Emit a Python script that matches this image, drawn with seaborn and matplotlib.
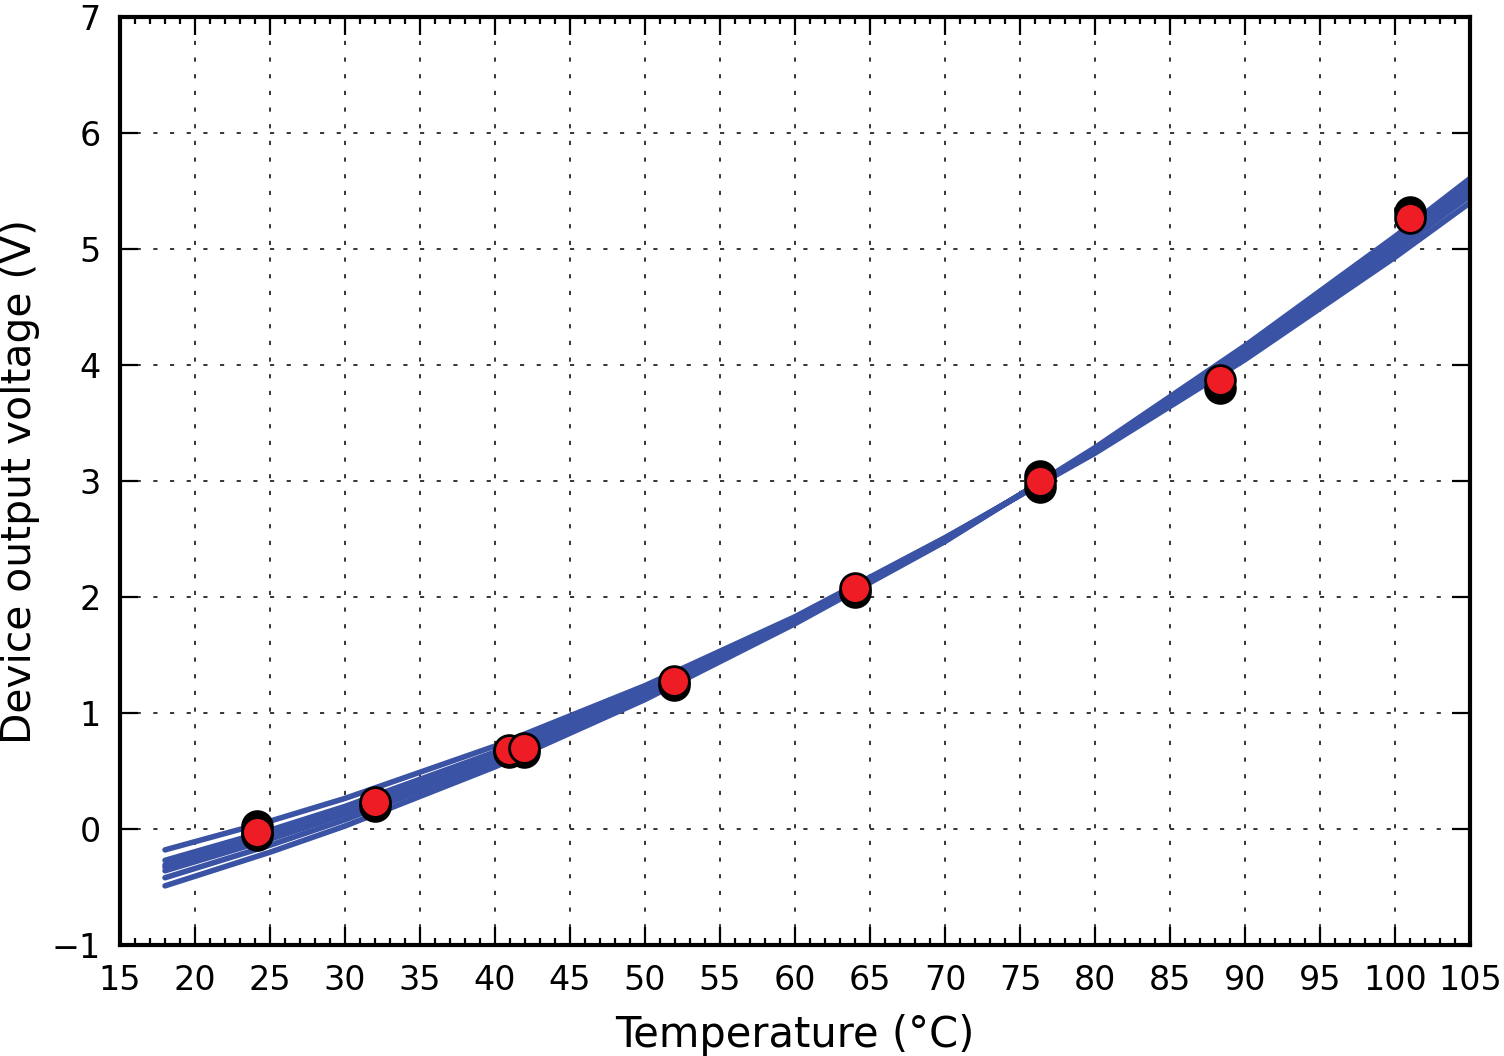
import matplotlib
matplotlib.use("Agg")
import matplotlib.pyplot as plt
import pandas as pd
import seaborn as sns
from matplotlib.ticker import MultipleLocator

# fitted curves (x, then one y list per curve)
fit_x = [18, 25, 30, 40, 50, 60, 70, 80, 90, 100, 105]
fit_1 = [-0.18, 0.068, 0.264, 0.715, 1.236, 1.830, 2.512, 3.240, 4.046, 4.929, 5.399]
fit_2 = [-0.27, -0.010, 0.195, 0.663, 1.201, 1.813, 2.505, 3.255, 4.081, 4.981, 5.460]
fit_3 = [-0.31, -0.045, 0.164, 0.640, 1.186, 1.805, 2.500, 3.262, 4.096, 5.004, 5.487]
fit_4 = [-0.33, -0.062, 0.149, 0.628, 1.178, 1.801, 2.496, 3.264, 4.104, 5.016, 5.500]
fit_5 = [-0.36, -0.088, 0.126, 0.611, 1.166, 1.795, 2.492, 3.268, 4.116, 5.033, 5.520]
fit_6 = [-0.42, -0.140, 0.080, 0.576, 1.143, 1.784, 2.486, 3.276, 4.139, 5.068, 5.561]
fit_7 = [-0.49, -0.200, 0.026, 0.536, 1.116, 1.770, 2.478, 3.288, 4.166, 5.108, 5.608]
fits = [fit_1, fit_2, fit_3, fit_4, fit_5, fit_6, fit_7]

# raw measurements (black) and averaged points (red)
raw_temp = [24.1, 24.1, 32.0, 40.9, 41.9, 51.9, 64.0, 76.3, 76.3, 88.3, 101.0]
raw_volt = [0.03, -0.05, 0.20, 0.66, 0.66, 1.24, 2.04, 3.04, 2.95, 3.80, 5.32]
mean_temp = [24.1, 32.0, 40.9, 41.9, 51.9, 64.0, 76.3, 88.3, 101.0]
mean_volt = [-0.03, 0.23, 0.68, 0.70, 1.28, 2.08, 3.00, 3.87, 5.27]

rows = []
for i, ys in enumerate(fits):
    for x, y in zip(fit_x, ys):
        rows.append({'fit': i, 'temp': x, 'volt': y})
df_fit = pd.DataFrame(rows)
df_raw = pd.DataFrame({'temp': raw_temp, 'volt': raw_volt})
df_mean = pd.DataFrame({'temp': mean_temp, 'volt': mean_volt})

sns.set_style("ticks")
plt.rcParams['font.family'] = ['DejaVu Sans']
plt.rcParams['lines.scale_dashes'] = False
plt.rcParams['text.color'] = 'black'
plt.rcParams['axes.labelcolor'] = 'black'

fig = plt.figure(figsize=(7.52, 5.28), dpi=200)
ax = fig.add_axes([0.0798, 0.1051, 0.8976, 0.8788])

sns.lineplot(data=df_fit, x='temp', y='volt', units='fit', estimator=None,
             color='#3a53a4', lw=2.0, ax=ax, zorder=2)
sns.scatterplot(data=df_raw, x='temp', y='volt', color='black', s=115,
                edgecolor='black', linewidth=1.0, ax=ax, zorder=3)
sns.scatterplot(data=df_mean, x='temp', y='volt', color='#ee1c25', s=115,
                edgecolor='black', linewidth=1.0, ax=ax, zorder=4)

ax.set_xlim(15, 105)
ax.set_ylim(-1, 7)
ax.xaxis.set_major_locator(MultipleLocator(5))
ax.xaxis.set_minor_locator(MultipleLocator(1))
ax.yaxis.set_major_locator(MultipleLocator(1))

ax.grid(True, which='major', color='black', lw=0.55, linestyle=(0, (1.5, 4.5)))
ax.tick_params(which='both', direction='in', top=True, right=True,
               labelsize=12, colors='black', width=0.8)
ax.tick_params(which='major', length=6.5, pad=7)
ax.tick_params(which='minor', length=2.5)
for s in ax.spines.values():
    s.set_linewidth(1.5)
    s.set_color('black')

ax.set_xlabel('Temperature (°C)', fontsize=15, labelpad=6, color='black')
ax.set_ylabel('Device output voltage (V)', fontsize=14.7, color='black')
ax.yaxis.set_label_coords(-0.059, 0.5)

fig.savefig('out.png', dpi=200)
